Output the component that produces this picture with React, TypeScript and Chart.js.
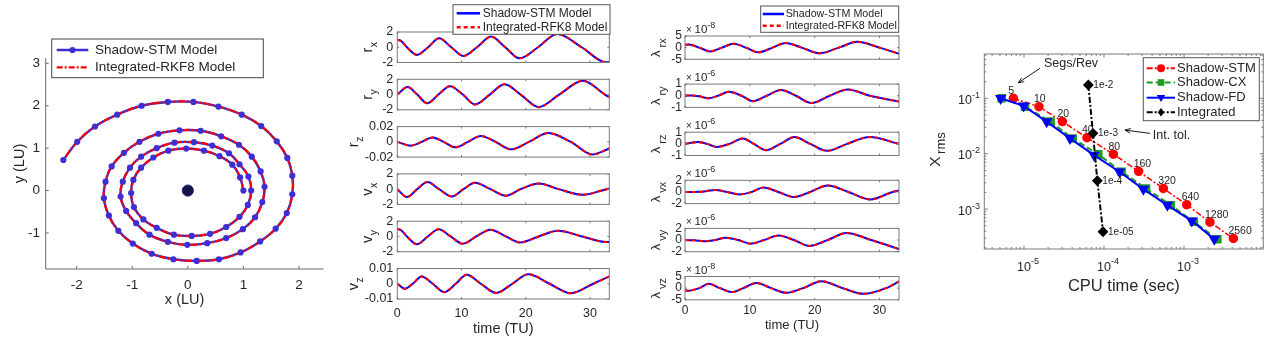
import React, { useEffect, useRef } from 'react';
import { Chart, registerables } from 'chart.js';

Chart.register(...registerables);

const W = 1280;
const H = 342;
const FF = '"Liberation Sans", Arial, Helvetica, sans-serif';
const TXT = '#262626';
const AXC = '#7a7a7a';

/* ---------------- Panel 1: trajectory ---------------- */
const spiralX = [1.00, 0.94, 0.80, 0.57, 0.29, -0.03, -0.35, -0.62, -0.84, -0.98,
  -1.02, -0.97, -0.80, -0.56, -0.25, 0.07, 0.40, 0.69, 0.93, 1.08,
  1.14, 1.09, 0.93, 0.74, 0.44, 0.11, -0.24, -0.56, -0.84, -1.04,
  -1.17, -1.21, -1.11, -0.93, -0.69, -0.36, -0.01, 0.35, 0.69, 0.99,
  1.21, 1.34, 1.38, 1.31, 1.15, 0.92, 0.60, 0.23, -0.15, -0.53,
  -0.87, -1.15, -1.37, -1.48, -1.51, -1.42, -1.25, -0.99, -0.65, -0.26,
  0.16, 0.56, 0.95, 1.30, 1.58, 1.78, 1.88, 1.88, 1.79, 1.60,
  1.32, 0.97, 0.55, 0.10, -0.36, -0.83, -1.27, -1.67, -1.99, -2.24];
const spiralY = [0.00, 0.31, 0.61, 0.81, 0.94, 0.99, 0.94, 0.78, 0.54, 0.25,
  -0.06, -0.39, -0.68, -0.88, -1.04, -1.07, -1.02, -0.86, -0.62, -0.34,
  0.00, 0.33, 0.62, 0.88, 1.06, 1.14, 1.13, 1.00, 0.80, 0.54,
  0.21, -0.14, -0.48, -0.77, -1.04, -1.21, -1.28, -1.24, -1.12, -0.91,
  -0.63, -0.27, 0.09, 0.45, 0.80, 1.08, 1.28, 1.41, 1.42, 1.34,
  1.15, 0.89, 0.57, 0.21, -0.18, -0.59, -0.95, -1.25, -1.49, -1.62,
  -1.66, -1.62, -1.46, -1.20, -0.90, -0.53, -0.09, 0.35, 0.77, 1.16,
  1.52, 1.79, 1.98, 2.09, 2.09, 2.00, 1.79, 1.51, 1.15, 0.72];
const bodyX = [0];
const bodyY = [0];
const spiralXTicks = [-2, -1, 0, 1, 2];
const spiralYTicks = [-1, 0, 1, 2, 3];

/* ---------------- Panels 2-3: time histories ---------------- */
const T_MAX = 33;
const timeTicks = [0, 10, 20, 30];

const rxT = [0, 0.6, 1.5, 3.05, 4.8, 6.5, 8.4, 10.3, 12.4, 14.6, 16.8, 19.0, 21.9, 24.9, 28.7, 32.5, 33];
const rxV = [1.0, 0.82, 0, -1.0, 0, 1.17, 0, -1.15, 0, 1.4, 0, -1.45, 0, 1.75, 0, -1.98, -1.97];
const ryT = [0, 1.6, 3.1, 4.65, 6.4, 8.2, 10.2, 12.1, 14.4, 16.7, 19.2, 22.0, 25.2, 28.9, 32.3, 33];
const ryV = [0, 1.0, 0, -1.15, 0, 1.1, 0, -1.3, 0, 1.35, 0, -1.65, 0, 1.8, 0, -0.35];
const rzT = [0, 2.1, 3.8, 5.5, 7.2, 9.0, 11.0, 13.0, 15.3, 17.7, 20.5, 23.5, 27.0, 30.4, 33];
const rzV = [0, -0.005, 0, 0.0058, 0, -0.0072, 0, 0.0078, 0, -0.0098, 0, 0.0117, 0, -0.0165, -0.0088];
const vxT = [0, 1.5, 3.1, 4.7, 6.5, 8.5, 10.3, 12.1, 14.5, 16.9, 19.2, 22.0, 25.1, 28.8, 32.6, 33];
const vxV = [0, -1.04, 0, 0.94, 0, -0.96, 0, 0.83, 0, -0.85, 0, 0.73, 0, -0.75, 0, 0.06];
const vyT = [0, 0.6, 1.5, 3.05, 4.75, 6.45, 8.3, 10.2, 12.3, 14.5, 16.9, 19.1, 22.0, 25.0, 28.8, 32.6, 33];
const vyV = [1.0, 0.82, 0, -1.02, 0, 0.96, 0, -0.96, 0, 0.87, 0, -0.79, 0, 0.74, 0, -0.74, -0.74];
const vzT = [0, 1.2, 2.4, 3.8, 5.5, 7.35, 9.1, 10.8, 13.0, 15.4, 17.9, 20.4, 23.7, 27.0, 30.5, 33];
const vzV = [0, -0.0033, 0, 0.0048, 0, -0.0055, 0, 0.0059, 0, -0.006, 0, 0.0063, 0, -0.0062, 0, 0.0048];

const lrxT = [0, 0.6, 2.2, 3.9, 5.7, 7.5, 9.4, 11.3, 13.5, 15.5, 18.0, 20.8, 23.7, 26.6, 30.0, 33];
const lrxV = [1.2, 1.3, 0, -1.6, 0, 1.7, 0, -2.0, 0, 2.0, 0, -2.4, 0, 2.5, 0, -2.6];
const lryT = [0, 1.0, 2.2, 3.6, 5.1, 6.8, 8.7, 10.5, 12.6, 14.8, 17.1, 19.5, 22.3, 25.1, 28.5, 33];
const lryV = [0, 0.03, -0.05, -0.22, 0, 0.34, 0, -0.47, 0, 0.49, 0, -0.63, 0, 0.53, 0, -0.5];
const lrzT = [0, 2.0, 3.4, 4.9, 6.9, 8.9, 10.6, 12.5, 14.7, 16.9, 19.3, 21.9, 25.0, 28.5, 33];
const lrzV = [0, 0.15, 0, -0.27, 0, 0.45, 0, -0.54, 0, 0.58, 0, -0.6, 0, 0.58, 0];
const lvxT = [0, 2.5, 4.7, 6.5, 8.4, 10.3, 12.1, 14.4, 16.8, 19.3, 22.0, 25.2, 28.6, 32.0, 33];
const lvxV = [0, 0.03, 0.35, 0, -0.42, 0, 0.76, 0, -0.86, 0, 1.12, 0, -1.28, 0, 0.25];
const lvyT = [0, 1.5, 3.0, 4.6, 6.3, 8.2, 10.1, 12.2, 14.4, 16.8, 19.2, 22.0, 24.9, 28.7, 33];
const lvyV = [0, -0.05, -0.2, 0, 0.4, 0, -0.62, 0, 0.76, 0, -1.0, 0, 1.22, 0, -1.55];
const lvzT = [0, 0.5, 2.2, 3.7, 5.4, 7.3, 9.0, 11.0, 13.3, 15.6, 18.2, 21.0, 24.3, 27.5, 31.0, 33];
const lvzV = [-1.0, -1.1, 0, 1.85, 0, -1.7, 0, 2.2, 0, -2.0, 0, 3.0, 0, -2.45, 0, 2.9];

const seriesNamesMid = ['Shadow-STM Model', 'Integrated-RFK8 Model'];
const seriesNamesSpiral = ['Shadow-STM Model', 'Integrated-RKF8 Model'];

type Sub = { main: string; sub: string; t: number[]; v: number[]; ticks: number[]; labels: string[]; expo?: string };

const MID: Sub[] = [
  { main: 'r', sub: 'x', t: rxT, v: rxV, ticks: [-2, 0, 2], labels: ['-2', '0', '2'] },
  { main: 'r', sub: 'y', t: ryT, v: ryV, ticks: [-2, 0, 2], labels: ['-2', '0', '2'] },
  { main: 'r', sub: 'z', t: rzT, v: rzV, ticks: [-0.02, 0, 0.02], labels: ['-0.02', '0', '0.02'] },
  { main: 'v', sub: 'x', t: vxT, v: vxV, ticks: [-2, 0, 2], labels: ['-2', '0', '2'] },
  { main: 'v', sub: 'y', t: vyT, v: vyV, ticks: [-2, 0, 2], labels: ['-2', '0', '2'] },
  { main: 'v', sub: 'z', t: vzT, v: vzV, ticks: [-0.01, 0, 0.01], labels: ['-0.01', '0', '0.01'] },
];
const RIGHT: Sub[] = [
  { main: 'λ', sub: 'rx', t: lrxT, v: lrxV, ticks: [-5, 0, 5], labels: ['-5', '0', '5'], expo: '-8' },
  { main: 'λ', sub: 'ry', t: lryT, v: lryV, ticks: [-1, 0, 1], labels: ['-1', '0', '1'], expo: '-6' },
  { main: 'λ', sub: 'rz', t: lrzT, v: lrzV, ticks: [-1, 0, 1], labels: ['-1', '0', '1'], expo: '-6' },
  { main: 'λ', sub: 'vx', t: lvxT, v: lvxV, ticks: [-2, 0, 2], labels: ['-2', '0', '2'], expo: '-6' },
  { main: 'λ', sub: 'vy', t: lvyT, v: lvyV, ticks: [-2, 0, 2], labels: ['-2', '0', '2'], expo: '-6' },
  { main: 'λ', sub: 'vz', t: lvzT, v: lvzV, ticks: [-5, 0, 5], labels: ['-5', '0', '5'], expo: '-8' },
];

/* ---------------- Panel 4: accuracy vs CPU time ---------------- */
const segsRev = ['5', '10', '20', '40', '80', '160', '320', '640', '1280', '2560'];
const stmCpu = [7.36e-6, 1.54e-5, 3.02e-5, 6.13e-5, 1.31e-4, 2.71e-4, 5.52e-4, 1.08e-3, 2.11e-3, 4.14e-3];
const stmErr = [0.1, 0.0707, 0.038, 0.0195, 0.0098, 0.0048, 0.00236, 0.0012, 5.82e-4, 2.95e-4];
const cxCpu = [5.26e-6, 1.03e-5, 2.15e-5, 4.06e-5, 8.49e-5, 1.66e-4, 3.35e-4, 6.81e-4, 1.33e-3, 2.61e-3];
const cxErr = [0.1, 0.0707, 0.038, 0.0189, 0.00973, 0.00473, 0.00236, 0.00118, 5.9e-4, 2.87e-4];
const fdCpu = [5.11e-6, 9.9e-6, 1.92e-5, 3.76e-5, 7.5e-5, 1.56e-4, 3.1e-4, 6.19e-4, 1.25e-3, 2.39e-3];
const fdErr = [0.1, 0.0729, 0.038, 0.0189, 0.00946, 0.00473, 0.0023, 0.00118, 6.15e-4, 2.87e-4];
const intCpu = [6.37e-5, 7.28e-5, 8.26e-5, 9.72e-5];
const intErr = [0.174, 0.0233, 0.00325, 3.9e-4];
const intTol = ['1e-2', '1e-3', '1e-4', '1e-05'];
const logXTicks = [1e-5, 1e-4, 1e-3];
const logXExp = ['-5', '-4', '-3'];
const logYTicks = [1e-3, 1e-2, 1e-1];
const logYExp = ['-3', '-2', '-1'];
const logLegend = ['Shadow-STM', 'Shadow-CX', 'Shadow-FD', 'Integrated'];

/* ---------------- helpers ---------------- */
type Ctx = CanvasRenderingContext2D;
type Box = { l: number; t: number; r: number; b: number };
const font = (px: number) => `${px}px ${FF}`;

function text(ctx: Ctx, s: string, x: number, y: number, px: number, align: CanvasTextAlign = 'left', base: CanvasTextBaseline = 'alphabetic', color = TXT) {
  ctx.font = font(px);
  ctx.fillStyle = color;
  ctx.textAlign = align;
  ctx.textBaseline = base;
  ctx.fillText(s, x, y);
}
function seg(ctx: Ctx, x1: number, y1: number, x2: number, y2: number, color = AXC, w = 1, dash: number[] = []) {
  ctx.beginPath();
  ctx.strokeStyle = color;
  ctx.lineWidth = w;
  ctx.setLineDash(dash);
  ctx.moveTo(x1, y1);
  ctx.lineTo(x2, y2);
  ctx.stroke();
  ctx.setLineDash([]);
}
function power(ctx: Ctx, exp: string, x: number, y: number, px: number, spx: number, rise: number, align: 'left' | 'center' | 'right') {
  ctx.font = font(px);
  const wb = ctx.measureText('10').width;
  ctx.font = font(spx);
  const ws = ctx.measureText(exp).width;
  const x0 = align === 'right' ? x - wb - ws : align === 'center' ? x - wb / 2 : x;
  text(ctx, '10', x0, y, px);
  text(ctx, exp, x0 + wb, y - rise, spx);
}
function rotLabel(ctx: Ctx, main: string, sub: string, bx: number, cy: number, px: number, spx: number, gap: number, drop: number) {
  ctx.save();
  ctx.translate(bx, cy);
  ctx.rotate(-Math.PI / 2);
  ctx.font = font(px);
  const wm = ctx.measureText(main).width;
  let ws = 0;
  if (sub) {
    ctx.font = font(spx);
    ws = ctx.measureText(sub).width;
  }
  const total = wm + (sub ? gap + ws : 0);
  const x0 = -total / 2;
  text(ctx, main, x0, 0, px);
  if (sub) text(ctx, sub, x0 + wm + gap, drop, spx);
  ctx.restore();
}
function arrow(ctx: Ctx, x1: number, y1: number, x2: number, y2: number) {
  seg(ctx, x1, y1, x2, y2, '#000', 0.9);
  const a = Math.atan2(y2 - y1, x2 - x1);
  const L = 6;
  const A = 0.4;
  ctx.beginPath();
  ctx.strokeStyle = '#000';
  ctx.lineWidth = 0.9;
  ctx.moveTo(x2 - L * Math.cos(a - A), y2 - L * Math.sin(a - A));
  ctx.lineTo(x2, y2);
  ctx.lineTo(x2 - L * Math.cos(a + A), y2 - L * Math.sin(a + A));
  ctx.stroke();
}
function pts(xs: number[], ys: number[]) {
  return xs.map((x, i) => ({ x, y: ys[i] }));
}
function baseOptions(box: Box, xScale: any, yScale: any): any {
  return {
    responsive: false,
    maintainAspectRatio: false,
    animation: false,
    events: [],
    layout: { padding: { left: box.l, top: box.t, right: W - box.r, bottom: H - box.b } },
    plugins: { legend: { display: false }, tooltip: { enabled: false }, title: { display: false } },
    scales: { x: { display: false, ...xScale }, y: { display: false, ...yScale } },
  };
}

/* ---------------- panel 1 ---------------- */
function spiralConfig(): any {
  const box = { l: 45.7, t: 58, r: 323.5, b: 269 };
  return {
    type: 'scatter',
    data: {
      datasets: [
        { label: seriesNamesSpiral[0], data: pts(spiralX, spiralY), showLine: true, borderColor: '#3a2fd0', borderWidth: 2.4, tension: 0.4, pointRadius: 0, order: 3 },
        { label: seriesNamesSpiral[1], data: pts(spiralX, spiralY), showLine: true, borderColor: '#ff0000', borderWidth: 2.2, borderDash: [7, 2, 2, 2], tension: 0.4, pointRadius: 0, order: 2 },
        { label: 'nodes', data: pts(spiralX, spiralY), showLine: false, pointRadius: 3.1, pointBackgroundColor: '#3d2fd2', pointBorderColor: '#3d2fd2', pointBorderWidth: 0, order: 1 },
        { label: 'body', data: pts(bodyX, bodyY), showLine: false, pointRadius: 5.6, pointBackgroundColor: '#15154e', pointBorderColor: '#2a2a70', pointBorderWidth: 1, order: 0 },
      ],
    },
    options: baseOptions(box, { type: 'linear', min: -2.557, max: 2.441 }, { type: 'linear', min: -1.85, max: 3.126 }),
    plugins: [{
      id: 'spiralAxes',
      afterDraw(chart: any) {
        const ctx: Ctx = chart.ctx;
        const a = chart.chartArea;
        const xs = chart.scales.x;
        const ys = chart.scales.y;
        ctx.save();
        seg(ctx, a.left, a.top, a.left, a.bottom, '#6a6a6a');
        seg(ctx, a.left, a.bottom, a.right, a.bottom, '#6a6a6a');
        spiralXTicks.forEach((v) => {
          const x = xs.getPixelForValue(v);
          seg(ctx, x, a.bottom, x, a.bottom - 3, '#6a6a6a');
          text(ctx, String(v), x, 285, 13.5, 'center', 'middle');
        });
        spiralYTicks.forEach((v) => {
          const y = ys.getPixelForValue(v);
          seg(ctx, a.left, y, a.left + 3, y, '#6a6a6a');
          text(ctx, String(v), 40, y, 13.5, 'right', 'middle');
        });
        text(ctx, 'x (LU)', (a.left + a.right) / 2, 300, 14.5, 'center', 'middle');
        rotLabel(ctx, 'y (LU)', '', 24, (a.top + a.bottom) / 2, 14.5, 10, 0, 0);
        // legend
        const L = { l: 51.7, t: 39, r: 263.3, b: 77.7 };
        ctx.fillStyle = '#fff';
        ctx.fillRect(L.l, L.t, L.r - L.l, L.b - L.t);
        ctx.strokeStyle = '#444';
        ctx.lineWidth = 1;
        ctx.strokeRect(L.l, L.t, L.r - L.l, L.b - L.t);
        seg(ctx, 56.7, 50, 88.3, 50, '#3a2fd0', 2.5);
        ctx.beginPath();
        ctx.fillStyle = '#3d2fd2';
        ctx.arc(72.5, 50, 3.1, 0, Math.PI * 2);
        ctx.fill();
        seg(ctx, 56.7, 67.3, 88.3, 67.3, '#ff0000', 2.2, [6, 2, 2, 2]);
        text(ctx, seriesNamesSpiral[0], 95, 50, 13.5, 'left', 'middle');
        text(ctx, seriesNamesSpiral[1], 95, 67.3, 13.5, 'left', 'middle');
        ctx.restore();
      },
    }],
  };
}

/* ---------------- panels 2-3 ---------------- */
type PanelStyle = {
  l: number; r: number; top0: number; step: number; h: number;
  tickPx: number; tickGap: number; labelX: number[]; mainPx: number; subPx: number; gap: number; drop: number;
  xTickY: number; xTickPx: number; xLabelY: number; xLabelPx: number;
  legend: { l: number; t: number; r: number; b: number; rows: number[]; x1: number; x2: number; tx: number; px: number };
};

const MID_STYLE: PanelStyle = {
  l: 397.3, r: 609.3, top0: 32, step: 47.3, h: 30.5,
  tickPx: 12.5, tickGap: 4, labelX: [372, 372, 357.5, 372, 372, 357.5], mainPx: 14.5, subPx: 10.5, gap: 0.5, drop: 5,
  xTickY: 313.3, xTickPx: 12.5, xLabelY: 328.5, xLabelPx: 14.5,
  legend: { l: 453, t: 4.7, r: 610, b: 34.3, rows: [13.3, 27.3], x1: 456.7, x2: 480, tx: 482.7, px: 12 },
};
const RIGHT_STYLE: PanelStyle = {
  l: 685, r: 899, top0: 36, step: 48.1, h: 23.3,
  tickPx: 12, tickGap: 3, labelX: [660, 660, 660, 660, 660, 660], mainPx: 13, subPx: 11, gap: 3, drop: 6,
  xTickY: 311, xTickPx: 12, xLabelY: 325.5, xLabelPx: 13,
  legend: { l: 760.7, t: 6, r: 898.7, b: 32.3, rows: [14, 25.7], x1: 762.7, x2: 784, tx: 785.7, px: 10.7 },
};

function sineConfig(s: Sub, idx: number, count: number, P: PanelStyle): any {
  const top = P.top0 + idx * P.step;
  const box = { l: P.l, t: top, r: P.r, b: top + P.h };
  return {
    type: 'scatter',
    data: {
      datasets: [
        { label: seriesNamesMid[0], data: pts(s.t, s.v), showLine: true, borderColor: '#0000ff', borderWidth: 2, pointRadius: 0, cubicInterpolationMode: 'monotone', order: 1 },
        { label: seriesNamesMid[1], data: pts(s.t, s.v), showLine: true, borderColor: '#ff0000', borderWidth: 2, borderDash: [4, 3], pointRadius: 0, cubicInterpolationMode: 'monotone', order: 0 },
      ],
    },
    options: baseOptions(box, { type: 'linear', min: 0, max: T_MAX }, { type: 'linear', min: s.ticks[0], max: s.ticks[s.ticks.length - 1] }),
    plugins: [{
      id: 'subAxes',
      afterDraw(chart: any) {
        const ctx: Ctx = chart.ctx;
        const a = chart.chartArea;
        const xs = chart.scales.x;
        const ys = chart.scales.y;
        ctx.save();
        ctx.strokeStyle = AXC;
        ctx.lineWidth = 1;
        ctx.setLineDash([]);
        ctx.strokeRect(a.left, a.top, a.right - a.left, a.bottom - a.top);
        timeTicks.forEach((tv) => {
          const x = xs.getPixelForValue(tv);
          seg(ctx, x, a.bottom, x, a.bottom - 2);
          seg(ctx, x, a.top, x, a.top + 2);
        });
        s.ticks.forEach((tv, i) => {
          const y = ys.getPixelForValue(tv);
          seg(ctx, a.left, y, a.left + 2, y);
          seg(ctx, a.right, y, a.right - 2, y);
          text(ctx, s.labels[i], a.left - P.tickGap, y, P.tickPx, 'right', 'middle');
        });
        rotLabel(ctx, s.main, s.sub, P.labelX[idx], (a.top + a.bottom) / 2, P.mainPx, P.subPx, P.gap, P.drop);
        if (s.expo) {
          text(ctx, '×', a.left + 1, a.top - 3.5, 10);
          power(ctx, s.expo, a.left + 9.5, a.top - 3, 11.5, 9, 5, 'left');
        }
        if (idx === count - 1) {
          timeTicks.forEach((tv) => {
            text(ctx, String(tv), xs.getPixelForValue(tv), P.xTickY, P.xTickPx, 'center', 'middle');
          });
          text(ctx, 'time (TU)', (a.left + a.right) / 2, P.xLabelY, P.xLabelPx, 'center', 'middle');
        }
        if (idx === 0) {
          const L = P.legend;
          ctx.fillStyle = '#fff';
          ctx.fillRect(L.l, L.t, L.r - L.l, L.b - L.t);
          ctx.strokeStyle = '#555';
          ctx.lineWidth = 1;
          ctx.strokeRect(L.l, L.t, L.r - L.l, L.b - L.t);
          seg(ctx, L.x1, L.rows[0], L.x2, L.rows[0], '#0000ff', 2.5);
          seg(ctx, L.x1, L.rows[1], L.x2, L.rows[1], '#ff0000', 2.5, [4, 3]);
          text(ctx, seriesNamesMid[0], L.tx, L.rows[0], L.px, 'left', 'middle');
          text(ctx, seriesNamesMid[1], L.tx, L.rows[1], L.px, 'left', 'middle');
        }
        ctx.restore();
      },
    }],
  };
}

/* ---------------- panel 4 ---------------- */
function marker(ctx: Ctx, kind: string, x: number, y: number, color: string) {
  ctx.beginPath();
  ctx.fillStyle = color;
  if (kind === 'circle') ctx.arc(x, y, 4, 0, Math.PI * 2);
  else if (kind === 'rect') ctx.rect(x - 3.3, y - 3.3, 6.6, 6.6);
  else if (kind === 'tri') {
    ctx.moveTo(x - 4.2, y - 2.6);
    ctx.lineTo(x + 4.2, y - 2.6);
    ctx.lineTo(x, y + 4.4);
    ctx.closePath();
  } else {
    ctx.moveTo(x, y - 4.2);
    ctx.lineTo(x + 3.2, y);
    ctx.lineTo(x, y + 4.2);
    ctx.lineTo(x - 3.2, y);
    ctx.closePath();
  }
  ctx.fill();
}

function logConfig(): any {
  const box = { l: 984.3, t: 54, r: 1263.3, b: 249 };
  const colors = ['#ff0000', '#1f9a1f', '#0000ff', '#000000'];
  const dashes = [[6, 2, 2, 2], [6, 3], [], [6, 2, 2, 2]];
  const kinds = ['circle', 'rect', 'tri', 'diamond'];
  return {
    type: 'scatter',
    data: {
      datasets: [
        { label: logLegend[0], data: pts(stmCpu, stmErr), showLine: true, borderColor: colors[0], borderWidth: 1.5, borderDash: dashes[0], pointStyle: 'circle', pointRadius: 4, pointBackgroundColor: colors[0], pointBorderColor: colors[0], order: 3 },
        { label: logLegend[1], data: pts(cxCpu, cxErr), showLine: true, borderColor: colors[1], borderWidth: 2, borderDash: dashes[1], pointStyle: 'rect', pointRadius: 4.6, pointBackgroundColor: colors[1], pointBorderColor: colors[1], order: 2 },
        { label: logLegend[2], data: pts(fdCpu, fdErr), showLine: true, borderColor: colors[2], borderWidth: 2, pointStyle: 'triangle', pointRotation: 180, pointRadius: 4.6, pointBackgroundColor: colors[2], pointBorderColor: colors[2], order: 1 },
        { label: logLegend[3], data: pts(intCpu, intErr), showLine: true, borderColor: colors[3], borderWidth: 2, borderDash: dashes[3], pointStyle: 'rectRot', pointRadius: 4, pointBackgroundColor: colors[3], pointBorderColor: colors[3], order: 0 },
      ],
    },
    options: baseOptions(box, { type: 'logarithmic', min: Math.pow(10, -5.496), max: Math.pow(10, -2.009) }, { type: 'logarithmic', min: Math.pow(10, -3.72), max: Math.pow(10, -0.2) }),
    plugins: [{
      id: 'logAxes',
      afterDraw(chart: any) {
        const ctx: Ctx = chart.ctx;
        const a = chart.chartArea;
        const xs = chart.scales.x;
        const ys = chart.scales.y;
        ctx.save();
        ctx.strokeStyle = AXC;
        ctx.lineWidth = 1;
        ctx.strokeRect(a.left, a.top, a.right - a.left, a.bottom - a.top);
        for (let d = -6; d <= -1; d++) {
          for (let k = 1; k <= 9; k++) {
            const v = k * Math.pow(10, d);
            const len = k === 1 ? 3.5 : 2;
            if (v > xs.min && v < xs.max) {
              const x = xs.getPixelForValue(v);
              seg(ctx, x, a.bottom, x, a.bottom - len);
              seg(ctx, x, a.top, x, a.top + len);
            }
          }
        }
        for (let d = -4; d <= 0; d++) {
          for (let k = 1; k <= 9; k++) {
            const v = k * Math.pow(10, d);
            const len = k === 1 ? 3.5 : 2;
            if (v > ys.min && v < ys.max) {
              const y = ys.getPixelForValue(v);
              seg(ctx, a.left, y, a.left + len, y);
              seg(ctx, a.right, y, a.right - len, y);
            }
          }
        }
        logXTicks.forEach((v, i) => power(ctx, logXExp[i], xs.getPixelForValue(v), 270.5, 12.5, 9, 6.5, 'center'));
        logYTicks.forEach((v, i) => power(ctx, logYExp[i], 980, ys.getPixelForValue(v) + 5.7, 12.5, 9, 6, 'right'));
        text(ctx, 'CPU time (sec)', (a.left + a.right) / 2, 286.7, 16.5, 'center', 'middle');
        rotLabel(ctx, 'X', 'rms', 940, (a.top + a.bottom) / 2 - 2, 15.5, 13, 2.5, 5);
        segsRev.forEach((s, i) => {
          text(ctx, s, xs.getPixelForValue(stmCpu[i]) - 5, ys.getPixelForValue(stmErr[i]) - 4.5, 10.5);
        });
        intTol.forEach((s, i) => {
          text(ctx, s, xs.getPixelForValue(intCpu[i]) + 5, ys.getPixelForValue(intErr[i]), 10, 'left', 'middle');
        });
        text(ctx, 'Segs/Rev', xs.getPixelForValue(3.87e-5), ys.getPixelForValue(0.43), 12.5, 'center', 'middle');
        arrow(ctx, xs.getPixelForValue(1.585e-5), ys.getPixelForValue(0.348), xs.getPixelForValue(8.49e-6), ys.getPixelForValue(0.191));
        text(ctx, 'Int. tol.', xs.getPixelForValue(4.07e-4), ys.getPixelForValue(0.0209), 12.5, 'left', 'middle');
        arrow(ctx, xs.getPixelForValue(3.76e-4), ys.getPixelForValue(0.0233), xs.getPixelForValue(1.83e-4), ys.getPixelForValue(0.0267));
        const L = { l: 1143.3, t: 57.7, r: 1259.3, b: 120.7 };
        ctx.fillStyle = '#fff';
        ctx.fillRect(L.l, L.t, L.r - L.l, L.b - L.t);
        ctx.strokeStyle = '#555';
        ctx.lineWidth = 1;
        ctx.strokeRect(L.l, L.t, L.r - L.l, L.b - L.t);
        const rows = [68.3, 82.5, 97.7, 112.3];
        logLegend.forEach((name, i) => {
          seg(ctx, 1146.7, rows[i], 1175, rows[i], colors[i], 2, dashes[i]);
          marker(ctx, kinds[i], 1161, rows[i], colors[i]);
          text(ctx, name, 1177, rows[i], 13, 'left', 'middle');
        });
        ctx.restore();
      },
    }],
  };
}

function buildConfigs(): any[] {
  const cfgs: any[] = [spiralConfig()];
  MID.forEach((s, i) => cfgs.push(sineConfig(s, i, MID.length, MID_STYLE)));
  RIGHT.forEach((s, i) => cfgs.push(sineConfig(s, i, RIGHT.length, RIGHT_STYLE)));
  cfgs.push(logConfig());
  return cfgs;
}

const CHART_COUNT = 2 + MID.length + RIGHT.length;

export default function App() {
  const refs = useRef<(HTMLCanvasElement | null)[]>([]);
  useEffect(() => {
    const cfgs = buildConfigs();
    const charts = cfgs.map((cfg, i) => new Chart(refs.current[i] as HTMLCanvasElement, cfg));
    return () => charts.forEach((c) => c.destroy());
  }, []);
  return (
    <div style={{ position: 'absolute', left: 0, top: 0, width: W, height: H, background: '#fff', overflow: 'hidden' }}>
      {Array.from({ length: CHART_COUNT }).map((_, i) => (
        <canvas
          key={i}
          ref={(el) => { refs.current[i] = el; }}
          width={W}
          height={H}
          style={{ position: 'absolute', left: 0, top: 0, width: W, height: H }}
        />
      ))}
    </div>
  );
}
